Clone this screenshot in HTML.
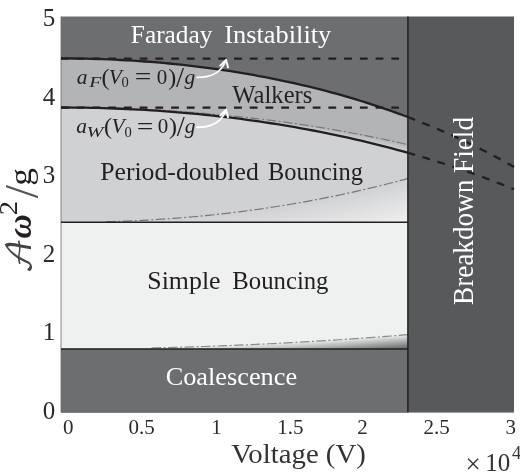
<!DOCTYPE html>
<html><head><meta charset="utf-8"><title>Phase diagram</title>
<style>html,body{margin:0;padding:0;background:#fff}svg{display:block}</style></head>
<body>
<svg width="520" height="472" viewBox="0 0 520 472">
<defs><clipPath id="cp"><rect x="61.00" y="16.50" width="346.90" height="395.70"/></clipPath></defs>
<rect width="520" height="472" fill="#fff"/>
<rect x="61.0" y="16.5" width="346.90" height="395.70" fill="#6d6e70"/>
<polygon fill="#b3b4b6" points="61.00,58.44 66.89,58.46 72.77,58.50 78.66,58.58 84.55,58.68 90.43,58.82 96.32,58.98 102.21,59.17 108.09,59.40 113.98,59.65 119.86,59.94 125.75,60.25 131.64,60.60 137.52,60.97 143.41,61.38 149.30,61.82 155.18,62.28 161.07,62.79 166.96,63.32 172.84,63.88 178.73,64.48 184.62,65.11 190.50,65.77 196.39,66.47 202.27,67.19 208.16,67.96 214.05,68.75 219.93,69.58 225.82,70.45 231.71,71.35 237.59,72.29 243.48,73.26 249.37,74.27 255.25,75.31 261.14,76.40 267.03,77.52 272.91,78.68 278.80,79.87 284.68,81.11 290.57,82.39 296.46,83.71 302.34,85.06 308.23,86.46 314.12,87.91 320.00,89.39 325.89,90.92 331.78,92.49 337.66,94.11 343.55,95.77 349.44,97.48 355.32,99.23 361.21,101.03 367.09,102.88 372.98,104.78 378.87,106.73 384.75,108.73 390.64,110.78 396.53,112.88 402.41,115.03 408.30,117.23 407.90,412.2 61.0,412.2"/>
<polygon fill="#b5b6b8" points="61.00,107.51 66.89,107.52 72.77,107.55 78.66,107.60 84.55,107.67 90.43,107.76 96.32,107.86 102.21,107.99 108.09,108.14 113.98,108.31 119.86,108.49 125.75,108.70 131.64,108.93 137.52,109.18 143.41,109.44 149.30,109.73 155.18,110.04 161.07,110.37 166.96,110.72 172.84,111.09 178.73,111.48 184.62,111.89 190.50,112.32 196.39,112.77 202.27,113.25 208.16,113.74 214.05,114.26 219.93,114.80 225.82,115.36 231.71,115.94 237.59,116.55 243.48,117.18 249.37,117.83 255.25,118.50 261.14,119.19 267.03,119.91 272.91,120.66 278.80,121.42 284.68,122.21 290.57,123.03 296.46,123.86 302.34,124.73 308.23,125.61 314.12,126.53 320.00,127.46 325.89,128.43 331.78,129.42 337.66,130.43 343.55,131.47 349.44,132.54 355.32,133.63 361.21,134.76 367.09,135.91 372.98,137.08 378.87,138.29 384.75,139.53 390.64,140.79 396.53,142.08 402.41,143.40 408.30,144.76 407.90,412.2 61.0,412.2"/>
<polygon fill="#b8b9bb" points="61.00,107.51 66.89,107.52 72.77,107.55 78.66,107.60 84.55,107.67 90.43,107.76 96.32,107.87 102.21,108.00 108.09,108.15 113.98,108.32 119.86,108.51 125.75,108.72 131.64,108.96 137.52,109.21 143.41,109.48 149.30,109.77 155.18,110.09 161.07,110.42 166.96,110.78 172.84,111.15 178.73,111.55 184.62,111.97 190.50,112.41 196.39,112.87 202.27,113.35 208.16,113.86 214.05,114.38 219.93,114.93 225.82,115.50 231.71,116.10 237.59,116.71 243.48,117.35 249.37,118.01 255.25,118.70 261.14,119.41 267.03,120.14 272.91,120.90 278.80,121.68 284.68,122.48 290.57,123.31 296.46,124.16 302.34,125.04 308.23,125.94 314.12,126.87 320.00,127.83 325.89,128.81 331.78,129.82 337.66,130.85 343.55,131.91 349.44,133.00 355.32,134.11 361.21,135.26 367.09,136.43 372.98,137.63 378.87,138.85 384.75,140.11 390.64,141.40 396.53,142.71 402.41,144.06 408.30,145.44 407.90,412.2 61.0,412.2"/>
<polygon fill="#babbbd" points="61.00,107.51 66.89,107.52 72.77,107.55 78.66,107.60 84.55,107.67 90.43,107.77 96.32,107.88 102.21,108.01 108.09,108.16 113.98,108.34 119.86,108.53 125.75,108.75 131.64,108.98 137.52,109.24 143.41,109.51 149.30,109.81 155.18,110.13 161.07,110.47 166.96,110.83 172.84,111.22 178.73,111.62 184.62,112.05 190.50,112.50 196.39,112.97 202.27,113.46 208.16,113.97 214.05,114.51 219.93,115.07 225.82,115.65 231.71,116.25 237.59,116.88 243.48,117.53 249.37,118.20 255.25,118.90 261.14,119.62 267.03,120.37 272.91,121.14 278.80,121.93 284.68,122.75 290.57,123.59 296.46,124.46 302.34,125.36 308.23,126.28 314.12,127.22 320.00,128.19 325.89,129.19 331.78,130.22 337.66,131.27 343.55,132.35 349.44,133.46 355.32,134.59 361.21,135.75 367.09,136.95 372.98,138.17 378.87,139.42 384.75,140.70 390.64,142.01 396.53,143.35 402.41,144.72 408.30,146.12 407.90,412.2 61.0,412.2"/>
<polygon fill="#bdbec0" points="61.00,107.51 66.89,107.52 72.77,107.55 78.66,107.60 84.55,107.68 90.43,107.77 96.32,107.88 102.21,108.02 108.09,108.17 113.98,108.35 119.86,108.55 125.75,108.77 131.64,109.01 137.52,109.27 143.41,109.55 149.30,109.85 155.18,110.18 161.07,110.52 166.96,110.89 172.84,111.28 178.73,111.69 184.62,112.13 190.50,112.58 196.39,113.06 202.27,113.56 208.16,114.09 214.05,114.63 219.93,115.20 225.82,115.79 231.71,116.41 237.59,117.04 243.48,117.71 249.37,118.39 255.25,119.10 261.14,119.84 267.03,120.59 272.91,121.38 278.80,122.19 284.68,123.02 290.57,123.88 296.46,124.76 302.34,125.67 308.23,126.61 314.12,127.57 320.00,128.56 325.89,129.57 331.78,130.62 337.66,131.69 343.55,132.79 349.44,133.91 355.32,135.07 361.21,136.25 367.09,137.47 372.98,138.71 378.87,139.98 384.75,141.28 390.64,142.62 396.53,143.98 402.41,145.37 408.30,146.80 407.90,412.2 61.0,412.2"/>
<polygon fill="#bfc0c2" points="61.00,107.51 66.89,107.52 72.77,107.55 78.66,107.61 84.55,107.68 90.43,107.77 96.32,107.89 102.21,108.03 108.09,108.19 113.98,108.37 119.86,108.57 125.75,108.79 131.64,109.03 137.52,109.30 143.41,109.59 149.30,109.89 155.18,110.22 161.07,110.58 166.96,110.95 172.84,111.35 178.73,111.77 184.62,112.21 190.50,112.67 196.39,113.16 202.27,113.67 208.16,114.20 214.05,114.75 219.93,115.33 225.82,115.94 231.71,116.56 237.59,117.21 243.48,117.88 249.37,118.58 255.25,119.30 261.14,120.05 267.03,120.82 272.91,121.62 278.80,122.44 284.68,123.29 290.57,124.16 296.46,125.06 302.34,125.99 308.23,126.94 314.12,127.92 320.00,128.92 325.89,129.96 331.78,131.02 337.66,132.11 343.55,133.22 349.44,134.37 355.32,135.55 361.21,136.75 367.09,137.98 372.98,139.25 378.87,140.54 384.75,141.87 390.64,143.22 396.53,144.61 402.41,146.03 408.30,147.48 407.90,412.2 61.0,412.2"/>
<polygon fill="#c2c2c4" points="61.00,107.51 66.89,107.52 72.77,107.55 78.66,107.61 84.55,107.68 90.43,107.78 96.32,107.90 102.21,108.04 108.09,108.20 113.98,108.38 119.86,108.58 125.75,108.81 131.64,109.06 137.52,109.33 143.41,109.62 149.30,109.93 155.18,110.27 161.07,110.63 166.96,111.01 172.84,111.41 178.73,111.84 184.62,112.29 190.50,112.76 196.39,113.25 202.27,113.77 208.16,114.31 214.05,114.88 219.93,115.47 225.82,116.08 231.71,116.71 237.59,117.38 243.48,118.06 249.37,118.77 255.25,119.50 261.14,120.26 267.03,121.05 272.91,121.86 278.80,122.69 284.68,123.56 290.57,124.44 296.46,125.36 302.34,126.30 308.23,127.27 314.12,128.26 320.00,129.29 325.89,130.34 331.78,131.42 337.66,132.53 343.55,133.66 349.44,134.83 355.32,136.02 361.21,137.25 367.09,138.50 372.98,139.79 378.87,141.11 384.75,142.45 390.64,143.83 396.53,145.24 402.41,146.69 408.30,148.16 407.90,412.2 61.0,412.2"/>
<polygon fill="#c4c5c7" points="61.00,107.51 66.89,107.52 72.77,107.55 78.66,107.61 84.55,107.69 90.43,107.78 96.32,107.90 102.21,108.05 108.09,108.21 113.98,108.39 119.86,108.60 125.75,108.83 131.64,109.08 137.52,109.36 143.41,109.66 149.30,109.98 155.18,110.32 161.07,110.68 166.96,111.07 172.84,111.48 178.73,111.91 184.62,112.37 190.50,112.85 196.39,113.35 202.27,113.88 208.16,114.43 214.05,115.00 219.93,115.60 225.82,116.22 231.71,116.87 237.59,117.54 243.48,118.24 249.37,118.96 255.25,119.71 261.14,120.48 267.03,121.28 272.91,122.10 278.80,122.95 284.68,123.83 290.57,124.73 296.46,125.66 302.34,126.62 308.23,127.60 314.12,128.61 320.00,129.65 325.89,130.72 331.78,131.82 337.66,132.95 343.55,134.10 349.44,135.29 355.32,136.50 361.21,137.75 367.09,139.02 372.98,140.33 378.87,141.67 384.75,143.04 390.64,144.44 396.53,145.88 402.41,147.34 408.30,148.84 407.90,412.2 61.0,412.2"/>
<polygon fill="#c6c7c9" points="61.00,107.51 66.89,107.52 72.77,107.56 78.66,107.61 84.55,107.69 90.43,107.79 96.32,107.91 102.21,108.05 108.09,108.22 113.98,108.41 119.86,108.62 125.75,108.85 131.64,109.11 137.52,109.39 143.41,109.69 149.30,110.02 155.18,110.36 161.07,110.73 166.96,111.13 172.84,111.54 178.73,111.98 184.62,112.45 190.50,112.94 196.39,113.45 202.27,113.98 208.16,114.54 214.05,115.13 219.93,115.73 225.82,116.37 231.71,117.02 237.59,117.71 243.48,118.41 249.37,119.15 255.25,119.91 261.14,120.69 267.03,121.50 272.91,122.34 278.80,123.20 284.68,124.09 290.57,125.01 296.46,125.96 302.34,126.93 308.23,127.93 314.12,128.96 320.00,130.02 325.89,131.10 331.78,132.22 337.66,133.37 343.55,134.54 349.44,135.74 355.32,136.98 361.21,138.25 367.09,139.54 372.98,140.87 378.87,142.23 384.75,143.62 390.64,145.05 396.53,146.51 402.41,148.00 408.30,149.53 407.90,412.2 61.0,412.2"/>
<polygon fill="#c9cacc" points="61.00,107.51 66.89,107.52 72.77,107.56 78.66,107.61 84.55,107.69 90.43,107.79 96.32,107.92 102.21,108.06 108.09,108.23 113.98,108.42 119.86,108.64 125.75,108.88 131.64,109.14 137.52,109.42 143.41,109.73 149.30,110.06 155.18,110.41 161.07,110.79 166.96,111.19 172.84,111.61 178.73,112.06 184.62,112.53 190.50,113.02 196.39,113.54 202.27,114.09 208.16,114.66 214.05,115.25 219.93,115.87 225.82,116.51 231.71,117.18 237.59,117.87 243.48,118.59 249.37,119.34 255.25,120.11 261.14,120.90 267.03,121.73 272.91,122.58 278.80,123.46 284.68,124.36 290.57,125.30 296.46,126.26 302.34,127.25 308.23,128.26 314.12,129.31 320.00,130.38 325.89,131.49 331.78,132.62 337.66,133.78 343.55,134.98 349.44,136.20 355.32,137.46 361.21,138.74 367.09,140.06 372.98,141.41 378.87,142.80 384.75,144.21 390.64,145.66 396.53,147.14 402.41,148.66 408.30,150.21 407.90,412.2 61.0,412.2"/>
<polygon fill="#cbccce" points="61.00,107.51 66.89,107.52 72.77,107.56 78.66,107.61 84.55,107.69 90.43,107.80 96.32,107.92 102.21,108.07 108.09,108.24 113.98,108.44 119.86,108.66 125.75,108.90 131.64,109.16 137.52,109.45 143.41,109.76 149.30,110.10 155.18,110.46 161.07,110.84 166.96,111.24 172.84,111.68 178.73,112.13 184.62,112.61 190.50,113.11 196.39,113.64 202.27,114.19 208.16,114.77 214.05,115.37 219.93,116.00 225.82,116.65 231.71,117.33 237.59,118.04 243.48,118.77 249.37,119.52 255.25,120.31 261.14,121.12 267.03,121.96 272.91,122.82 278.80,123.71 284.68,124.63 290.57,125.58 296.46,126.56 302.34,127.56 308.23,128.59 314.12,129.66 320.00,130.75 325.89,131.87 331.78,133.02 337.66,134.20 343.55,135.42 349.44,136.66 355.32,137.94 361.21,139.24 367.09,140.58 372.98,141.95 378.87,143.36 384.75,144.80 390.64,146.27 396.53,147.77 402.41,149.31 408.30,150.89 407.90,412.2 61.0,412.2"/>
<polygon fill="#cecfd1" points="61.00,107.51 66.89,107.52 72.77,107.56 78.66,107.62 84.55,107.70 90.43,107.80 96.32,107.93 102.21,108.08 108.09,108.26 113.98,108.45 119.86,108.67 125.75,108.92 131.64,109.19 137.52,109.48 143.41,109.80 149.30,110.14 155.18,110.50 161.07,110.89 166.96,111.30 172.84,111.74 178.73,112.20 184.62,112.69 190.50,113.20 196.39,113.74 202.27,114.30 208.16,114.88 214.05,115.50 219.93,116.13 225.82,116.80 231.71,117.49 237.59,118.20 243.48,118.94 249.37,119.71 255.25,120.51 261.14,121.33 267.03,122.18 272.91,123.06 278.80,123.97 284.68,124.90 290.57,125.86 296.46,126.85 302.34,127.88 308.23,128.92 314.12,130.00 320.00,131.11 325.89,132.25 331.78,133.42 337.66,134.62 343.55,135.85 349.44,137.12 355.32,138.41 361.21,139.74 367.09,141.10 372.98,142.49 378.87,143.92 384.75,145.38 390.64,146.88 396.53,148.41 402.41,149.97 408.30,151.57 407.90,412.2 61.0,412.2"/>
<polygon fill="#d0d1d3" points="61.00,107.51 66.89,107.52 72.77,107.56 78.66,107.62 84.55,107.70 90.43,107.81 96.32,107.94 102.21,108.09 108.09,108.27 113.98,108.47 119.86,108.69 125.75,108.94 131.64,109.21 137.52,109.51 143.41,109.83 149.30,110.18 155.18,110.55 161.07,110.94 166.96,111.36 172.84,111.81 178.73,112.27 184.62,112.77 190.50,113.29 196.39,113.83 202.27,114.40 208.16,115.00 214.05,115.62 219.93,116.27 225.82,116.94 231.71,117.64 237.59,118.37 243.48,119.12 249.37,119.90 255.25,120.71 261.14,121.55 267.03,122.41 272.91,123.30 278.80,124.22 284.68,125.17 290.57,126.15 296.46,127.15 302.34,128.19 308.23,129.26 314.12,130.35 320.00,131.48 325.89,132.63 331.78,133.82 337.66,135.04 343.55,136.29 349.44,137.58 355.32,138.89 361.21,140.24 367.09,141.62 372.98,143.04 378.87,144.48 384.75,145.97 390.64,147.49 396.53,149.04 402.41,150.63 408.30,152.25 407.90,412.2 61.0,412.2"/>
<polygon fill="#d0d1d3" points="61.00,107.51 66.89,107.52 72.77,107.56 78.66,107.62 84.55,107.70 90.43,107.81 96.32,107.94 102.21,108.10 108.09,108.28 113.98,108.48 119.86,108.71 125.75,108.96 131.64,109.24 137.52,109.54 143.41,109.87 149.30,110.22 155.18,110.59 161.07,111.00 166.96,111.42 172.84,111.87 178.73,112.35 184.62,112.85 190.50,113.38 196.39,113.93 202.27,114.51 208.16,115.11 214.05,115.74 219.93,116.40 225.82,117.08 231.71,117.79 237.59,118.53 243.48,119.30 249.37,120.09 255.25,120.91 261.14,121.76 267.03,122.64 272.91,123.54 278.80,124.48 284.68,125.44 290.57,126.43 296.46,127.45 302.34,128.50 308.23,129.59 314.12,130.70 320.00,131.84 325.89,133.02 331.78,134.22 337.66,135.46 343.55,136.73 349.44,138.03 355.32,139.37 361.21,140.74 367.09,142.14 372.98,143.58 378.87,145.05 384.75,146.55 390.64,148.09 396.53,149.67 402.41,151.28 408.30,152.93 407.90,412.2 61.0,412.2"/>
<g clip-path="url(#cp)">
<polygon fill="#d1d2d4" points="61.00,222.26 66.89,222.26 72.77,222.23 78.66,222.19 84.55,222.13 90.43,222.05 96.32,221.94 102.21,221.82 108.09,221.67 113.98,221.49 119.86,221.30 125.75,221.08 131.64,220.84 137.52,220.57 143.41,220.27 149.30,219.96 155.18,219.61 161.07,219.24 166.96,218.85 172.84,218.43 178.73,217.98 184.62,217.51 190.50,217.01 196.39,216.48 202.27,215.92 208.16,215.34 214.05,214.73 219.93,214.10 225.82,213.43 231.71,212.74 237.59,212.02 243.48,211.27 249.37,210.50 255.25,209.69 261.14,208.86 267.03,208.00 272.91,207.11 278.80,206.19 284.68,205.24 290.57,204.26 296.46,203.25 302.34,202.22 308.23,201.15 314.12,200.05 320.00,198.93 325.89,197.77 331.78,196.59 337.66,195.37 343.55,194.13 349.44,192.85 355.32,191.55 361.21,190.21 367.09,188.84 372.98,187.45 378.87,186.02 384.75,184.56 390.64,183.07 396.53,181.55 402.41,180.00 408.30,178.42 407.90,412.2 61.0,412.2"/>
<polygon fill="#d2d3d5" points="61.00,223.80 66.89,223.79 72.77,223.77 78.66,223.72 84.55,223.66 90.43,223.58 96.32,223.48 102.21,223.35 108.09,223.20 113.98,223.03 119.86,222.83 125.75,222.61 131.64,222.37 137.52,222.10 143.41,221.81 149.30,221.49 155.18,221.15 161.07,220.78 166.96,220.38 172.84,219.96 178.73,219.51 184.62,219.04 190.50,218.54 196.39,218.01 202.27,217.46 208.16,216.88 214.05,216.27 219.93,215.63 225.82,214.97 231.71,214.27 237.59,213.55 243.48,212.81 249.37,212.03 255.25,211.23 261.14,210.39 267.03,209.53 272.91,208.64 278.80,207.72 284.68,206.77 290.57,205.79 296.46,204.79 302.34,203.75 308.23,202.68 314.12,201.59 320.00,200.46 325.89,199.31 331.78,198.12 337.66,196.91 343.55,195.66 349.44,194.39 355.32,193.08 361.21,191.74 367.09,190.38 372.98,188.98 378.87,187.55 384.75,186.09 390.64,184.60 396.53,183.08 402.41,181.53 408.30,179.95 407.90,412.2 61.0,412.2"/>
<polygon fill="#d3d4d6" points="61.00,225.33 66.89,225.32 72.77,225.30 78.66,225.26 84.55,225.20 90.43,225.11 96.32,225.01 102.21,224.88 108.09,224.73 113.98,224.56 119.86,224.37 125.75,224.15 131.64,223.90 137.52,223.63 143.41,223.34 149.30,223.02 155.18,222.68 161.07,222.31 166.96,221.92 172.84,221.49 178.73,221.05 184.62,220.57 190.50,220.07 196.39,219.55 202.27,218.99 208.16,218.41 214.05,217.80 219.93,217.16 225.82,216.50 231.71,215.81 237.59,215.09 243.48,214.34 249.37,213.56 255.25,212.76 261.14,211.93 267.03,211.06 272.91,210.17 278.80,209.25 284.68,208.30 290.57,207.33 296.46,206.32 302.34,205.28 308.23,204.22 314.12,203.12 320.00,201.99 325.89,200.84 331.78,199.65 337.66,198.44 343.55,197.19 349.44,195.92 355.32,194.61 361.21,193.28 367.09,191.91 372.98,190.51 378.87,189.09 384.75,187.63 390.64,186.14 396.53,184.62 402.41,183.07 408.30,181.48 407.90,412.2 61.0,412.2"/>
<polygon fill="#d4d5d7" points="61.00,226.86 66.89,226.86 72.77,226.83 78.66,226.79 84.55,226.73 90.43,226.65 96.32,226.54 102.21,226.42 108.09,226.27 113.98,226.09 119.86,225.90 125.75,225.68 131.64,225.44 137.52,225.17 143.41,224.87 149.30,224.56 155.18,224.21 161.07,223.84 166.96,223.45 172.84,223.03 178.73,222.58 184.62,222.11 190.50,221.61 196.39,221.08 202.27,220.52 208.16,219.94 214.05,219.33 219.93,218.70 225.82,218.03 231.71,217.34 237.59,216.62 243.48,215.87 249.37,215.10 255.25,214.29 261.14,213.46 267.03,212.60 272.91,211.71 278.80,210.79 284.68,209.84 290.57,208.86 296.46,207.85 302.34,206.82 308.23,205.75 314.12,204.65 320.00,203.53 325.89,202.37 331.78,201.19 337.66,199.97 343.55,198.73 349.44,197.45 355.32,196.15 361.21,194.81 367.09,193.44 372.98,192.05 378.87,190.62 384.75,189.16 390.64,187.67 396.53,186.15 402.41,184.60 408.30,183.02 407.90,412.2 61.0,412.2"/>
<polygon fill="#d6d6d8" points="61.00,228.40 66.89,228.39 72.77,228.37 78.66,228.32 84.55,228.26 90.43,228.18 96.32,228.08 102.21,227.95 108.09,227.80 113.98,227.63 119.86,227.43 125.75,227.21 131.64,226.97 137.52,226.70 143.41,226.41 149.30,226.09 155.18,225.75 161.07,225.38 166.96,224.98 172.84,224.56 178.73,224.11 184.62,223.64 190.50,223.14 196.39,222.61 202.27,222.06 208.16,221.48 214.05,220.87 219.93,220.23 225.82,219.57 231.71,218.87 237.59,218.15 243.48,217.41 249.37,216.63 255.25,215.83 261.14,214.99 267.03,214.13 272.91,213.24 278.80,212.32 284.68,211.37 290.57,210.39 296.46,209.39 302.34,208.35 308.23,207.28 314.12,206.19 320.00,205.06 325.89,203.91 331.78,202.72 337.66,201.51 343.55,200.26 349.44,198.99 355.32,197.68 361.21,196.34 367.09,194.98 372.98,193.58 378.87,192.15 384.75,190.69 390.64,189.20 396.53,187.68 402.41,186.13 408.30,184.55 407.90,412.2 61.0,412.2"/>
<polygon fill="#d7d7d9" points="61.00,229.93 66.89,229.92 72.77,229.90 78.66,229.86 84.55,229.80 90.43,229.71 96.32,229.61 102.21,229.48 108.09,229.33 113.98,229.16 119.86,228.97 125.75,228.75 131.64,228.50 137.52,228.23 143.41,227.94 149.30,227.62 155.18,227.28 161.07,226.91 166.96,226.52 172.84,226.09 178.73,225.65 184.62,225.17 190.50,224.67 196.39,224.15 202.27,223.59 208.16,223.01 214.05,222.40 219.93,221.76 225.82,221.10 231.71,220.41 237.59,219.69 243.48,218.94 249.37,218.16 255.25,217.36 261.14,216.53 267.03,215.66 272.91,214.77 278.80,213.85 284.68,212.90 290.57,211.93 296.46,210.92 302.34,209.88 308.23,208.82 314.12,207.72 320.00,206.59 325.89,205.44 331.78,204.25 337.66,203.04 343.55,201.79 349.44,200.52 355.32,199.21 361.21,197.88 367.09,196.51 372.98,195.11 378.87,193.69 384.75,192.23 390.64,190.74 396.53,189.22 402.41,187.67 408.30,186.08 407.90,412.2 61.0,412.2"/>
<polygon fill="#d8d8da" points="61.00,231.46 66.89,231.46 72.77,231.43 78.66,231.39 84.55,231.33 90.43,231.25 96.32,231.14 102.21,231.02 108.09,230.87 113.98,230.69 119.86,230.50 125.75,230.28 131.64,230.04 137.52,229.77 143.41,229.47 149.30,229.16 155.18,228.81 161.07,228.44 166.96,228.05 172.84,227.63 178.73,227.18 184.62,226.71 190.50,226.21 196.39,225.68 202.27,225.12 208.16,224.54 214.05,223.93 219.93,223.30 225.82,222.63 231.71,221.94 237.59,221.22 243.48,220.47 249.37,219.70 255.25,218.89 261.14,218.06 267.03,217.20 272.91,216.31 278.80,215.39 284.68,214.44 290.57,213.46 296.46,212.45 302.34,211.42 308.23,210.35 314.12,209.25 320.00,208.13 325.89,206.97 331.78,205.79 337.66,204.57 343.55,203.33 349.44,202.05 355.32,200.75 361.21,199.41 367.09,198.04 372.98,196.65 378.87,195.22 384.75,193.76 390.64,192.27 396.53,190.75 402.41,189.20 408.30,187.62 407.90,412.2 61.0,412.2"/>
<polygon fill="#d9dadb" points="61.00,233.00 66.89,232.99 72.77,232.97 78.66,232.92 84.55,232.86 90.43,232.78 96.32,232.68 102.21,232.55 108.09,232.40 113.98,232.23 119.86,232.03 125.75,231.81 131.64,231.57 137.52,231.30 143.41,231.01 149.30,230.69 155.18,230.35 161.07,229.98 166.96,229.58 172.84,229.16 178.73,228.71 184.62,228.24 190.50,227.74 196.39,227.21 202.27,226.66 208.16,226.08 214.05,225.47 219.93,224.83 225.82,224.17 231.71,223.47 237.59,222.75 243.48,222.01 249.37,221.23 255.25,220.43 261.14,219.59 267.03,218.73 272.91,217.84 278.80,216.92 284.68,215.97 290.57,214.99 296.46,213.99 302.34,212.95 308.23,211.88 314.12,210.79 320.00,209.66 325.89,208.51 331.78,207.32 337.66,206.11 343.55,204.86 349.44,203.59 355.32,202.28 361.21,200.94 367.09,199.58 372.98,198.18 378.87,196.75 384.75,195.29 390.64,193.80 396.53,192.28 402.41,190.73 408.30,189.15 407.90,412.2 61.0,412.2"/>
<polygon fill="#dadbdc" points="61.00,234.53 66.89,234.52 72.77,234.50 78.66,234.46 84.55,234.40 90.43,234.31 96.32,234.21 102.21,234.08 108.09,233.93 113.98,233.76 119.86,233.57 125.75,233.35 131.64,233.10 137.52,232.83 143.41,232.54 149.30,232.22 155.18,231.88 161.07,231.51 166.96,231.12 172.84,230.69 178.73,230.25 184.62,229.77 190.50,229.27 196.39,228.75 202.27,228.19 208.16,227.61 214.05,227.00 219.93,226.36 225.82,225.70 231.71,225.01 237.59,224.29 243.48,223.54 249.37,222.76 255.25,221.96 261.14,221.13 267.03,220.26 272.91,219.37 278.80,218.45 284.68,217.50 290.57,216.53 296.46,215.52 302.34,214.48 308.23,213.42 314.12,212.32 320.00,211.19 325.89,210.04 331.78,208.85 337.66,207.64 343.55,206.39 349.44,205.12 355.32,203.81 361.21,202.48 367.09,201.11 372.98,199.71 378.87,198.29 384.75,196.83 390.64,195.34 396.53,193.82 402.41,192.27 408.30,190.68 407.90,412.2 61.0,412.2"/>
<polygon fill="#dbdcdd" points="61.00,236.06 66.89,236.06 72.77,236.03 78.66,235.99 84.55,235.93 90.43,235.85 96.32,235.74 102.21,235.62 108.09,235.47 113.98,235.29 119.86,235.10 125.75,234.88 131.64,234.64 137.52,234.37 143.41,234.07 149.30,233.76 155.18,233.41 161.07,233.04 166.96,232.65 172.84,232.23 178.73,231.78 184.62,231.31 190.50,230.81 196.39,230.28 202.27,229.72 208.16,229.14 214.05,228.53 219.93,227.90 225.82,227.23 231.71,226.54 237.59,225.82 243.48,225.07 249.37,224.30 255.25,223.49 261.14,222.66 267.03,221.80 272.91,220.91 278.80,219.99 284.68,219.04 290.57,218.06 296.46,217.05 302.34,216.02 308.23,214.95 314.12,213.85 320.00,212.73 325.89,211.57 331.78,210.39 337.66,209.17 343.55,207.93 349.44,206.65 355.32,205.35 361.21,204.01 367.09,202.64 372.98,201.25 378.87,199.82 384.75,198.36 390.64,196.87 396.53,195.35 402.41,193.80 408.30,192.22 407.90,412.2 61.0,412.2"/>
<polygon fill="#dcddde" points="61.00,237.60 66.89,237.59 72.77,237.57 78.66,237.52 84.55,237.46 90.43,237.38 96.32,237.28 102.21,237.15 108.09,237.00 113.98,236.83 119.86,236.63 125.75,236.41 131.64,236.17 137.52,235.90 143.41,235.61 149.30,235.29 155.18,234.95 161.07,234.58 166.96,234.18 172.84,233.76 178.73,233.31 184.62,232.84 190.50,232.34 196.39,231.81 202.27,231.26 208.16,230.68 214.05,230.07 219.93,229.43 225.82,228.77 231.71,228.07 237.59,227.35 243.48,226.61 249.37,225.83 255.25,225.03 261.14,224.19 267.03,223.33 272.91,222.44 278.80,221.52 284.68,220.57 290.57,219.59 296.46,218.59 302.34,217.55 308.23,216.48 314.12,215.39 320.00,214.26 325.89,213.11 331.78,211.92 337.66,210.71 343.55,209.46 349.44,208.19 355.32,206.88 361.21,205.54 367.09,204.18 372.98,202.78 378.87,201.35 384.75,199.89 390.64,198.40 396.53,196.88 402.41,195.33 408.30,193.75 407.90,412.2 61.0,412.2"/>
<polygon fill="#dddedf" points="61.00,239.13 66.89,239.12 72.77,239.10 78.66,239.06 84.55,239.00 90.43,238.91 96.32,238.81 102.21,238.68 108.09,238.53 113.98,238.36 119.86,238.17 125.75,237.95 131.64,237.70 137.52,237.43 143.41,237.14 149.30,236.82 155.18,236.48 161.07,236.11 166.96,235.72 172.84,235.29 178.73,234.85 184.62,234.37 190.50,233.87 196.39,233.35 202.27,232.79 208.16,232.21 214.05,231.60 219.93,230.96 225.82,230.30 231.71,229.61 237.59,228.89 243.48,228.14 249.37,227.36 255.25,226.56 261.14,225.73 267.03,224.86 272.91,223.97 278.80,223.05 284.68,222.10 290.57,221.13 296.46,220.12 302.34,219.08 308.23,218.02 314.12,216.92 320.00,215.79 325.89,214.64 331.78,213.45 337.66,212.24 343.55,210.99 349.44,209.72 355.32,208.41 361.21,207.08 367.09,205.71 372.98,204.31 378.87,202.89 384.75,201.43 390.64,199.94 396.53,198.42 402.41,196.87 408.30,195.28 407.90,412.2 61.0,412.2"/>
<polygon fill="#dedfe0" points="61.00,240.66 66.89,240.66 72.77,240.63 78.66,240.59 84.55,240.53 90.43,240.45 96.32,240.34 102.21,240.22 108.09,240.07 113.98,239.89 119.86,239.70 125.75,239.48 131.64,239.24 137.52,238.97 143.41,238.67 149.30,238.36 155.18,238.01 161.07,237.64 166.96,237.25 172.84,236.83 178.73,236.38 184.62,235.91 190.50,235.41 196.39,234.88 202.27,234.32 208.16,233.74 214.05,233.13 219.93,232.50 225.82,231.83 231.71,231.14 237.59,230.42 243.48,229.67 249.37,228.90 255.25,228.09 261.14,227.26 267.03,226.40 272.91,225.51 278.80,224.59 284.68,223.64 290.57,222.66 296.46,221.65 302.34,220.62 308.23,219.55 314.12,218.45 320.00,217.33 325.89,216.17 331.78,214.99 337.66,213.77 343.55,212.53 349.44,211.25 355.32,209.95 361.21,208.61 367.09,207.24 372.98,205.85 378.87,204.42 384.75,202.96 390.64,201.47 396.53,199.95 402.41,198.40 408.30,196.82 407.90,412.2 61.0,412.2"/>
<polygon fill="#dfe0e1" points="61.00,242.20 66.89,242.19 72.77,242.17 78.66,242.12 84.55,242.06 90.43,241.98 96.32,241.88 102.21,241.75 108.09,241.60 113.98,241.43 119.86,241.23 125.75,241.01 131.64,240.77 137.52,240.50 143.41,240.21 149.30,239.89 155.18,239.55 161.07,239.18 166.96,238.78 172.84,238.36 178.73,237.91 184.62,237.44 190.50,236.94 196.39,236.41 202.27,235.86 208.16,235.28 214.05,234.67 219.93,234.03 225.82,233.37 231.71,232.67 237.59,231.95 243.48,231.21 249.37,230.43 255.25,229.63 261.14,228.79 267.03,227.93 272.91,227.04 278.80,226.12 284.68,225.17 290.57,224.19 296.46,223.19 302.34,222.15 308.23,221.08 314.12,219.99 320.00,218.86 325.89,217.71 331.78,216.52 337.66,215.31 343.55,214.06 349.44,212.79 355.32,211.48 361.21,210.14 367.09,208.78 372.98,207.38 378.87,205.95 384.75,204.49 390.64,203.00 396.53,201.48 402.41,199.93 408.30,198.35 407.90,412.2 61.0,412.2"/>
<polygon fill="#e0e1e2" points="61.00,243.73 66.89,243.72 72.77,243.70 78.66,243.66 84.55,243.60 90.43,243.51 96.32,243.41 102.21,243.28 108.09,243.13 113.98,242.96 119.86,242.77 125.75,242.55 131.64,242.30 137.52,242.03 143.41,241.74 149.30,241.42 155.18,241.08 161.07,240.71 166.96,240.32 172.84,239.89 178.73,239.45 184.62,238.97 190.50,238.47 196.39,237.95 202.27,237.39 208.16,236.81 214.05,236.20 219.93,235.56 225.82,234.90 231.71,234.21 237.59,233.49 243.48,232.74 249.37,231.96 255.25,231.16 261.14,230.33 267.03,229.46 272.91,228.57 278.80,227.65 284.68,226.70 290.57,225.73 296.46,224.72 302.34,223.68 308.23,222.62 314.12,221.52 320.00,220.39 325.89,219.24 331.78,218.05 337.66,216.84 343.55,215.59 349.44,214.32 355.32,213.01 361.21,211.68 367.09,210.31 372.98,208.91 378.87,207.49 384.75,206.03 390.64,204.54 396.53,203.02 402.41,201.47 408.30,199.88 407.90,412.2 61.0,412.2"/>
<polygon fill="#e2e2e3" points="61.00,245.26 66.89,245.26 72.77,245.23 78.66,245.19 84.55,245.13 90.43,245.05 96.32,244.94 102.21,244.82 108.09,244.67 113.98,244.49 119.86,244.30 125.75,244.08 131.64,243.84 137.52,243.57 143.41,243.27 149.30,242.96 155.18,242.61 161.07,242.24 166.96,241.85 172.84,241.43 178.73,240.98 184.62,240.51 190.50,240.01 196.39,239.48 202.27,238.92 208.16,238.34 214.05,237.73 219.93,237.10 225.82,236.43 231.71,235.74 237.59,235.02 243.48,234.27 249.37,233.50 255.25,232.69 261.14,231.86 267.03,231.00 272.91,230.11 278.80,229.19 284.68,228.24 290.57,227.26 296.46,226.25 302.34,225.22 308.23,224.15 314.12,223.05 320.00,221.93 325.89,220.77 331.78,219.59 337.66,218.37 343.55,217.13 349.44,215.85 355.32,214.55 361.21,213.21 367.09,211.84 372.98,210.45 378.87,209.02 384.75,207.56 390.64,206.07 396.53,204.55 402.41,203.00 408.30,201.42 407.90,412.2 61.0,412.2"/>
<polygon fill="#e3e3e4" points="61.00,246.80 66.89,246.79 72.77,246.77 78.66,246.72 84.55,246.66 90.43,246.58 96.32,246.48 102.21,246.35 108.09,246.20 113.98,246.03 119.86,245.83 125.75,245.61 131.64,245.37 137.52,245.10 143.41,244.81 149.30,244.49 155.18,244.15 161.07,243.78 166.96,243.38 172.84,242.96 178.73,242.51 184.62,242.04 190.50,241.54 196.39,241.01 202.27,240.46 208.16,239.88 214.05,239.27 219.93,238.63 225.82,237.97 231.71,237.27 237.59,236.55 243.48,235.81 249.37,235.03 255.25,234.23 261.14,233.39 267.03,232.53 272.91,231.64 278.80,230.72 284.68,229.77 290.57,228.79 296.46,227.79 302.34,226.75 308.23,225.68 314.12,224.59 320.00,223.46 325.89,222.31 331.78,221.12 337.66,219.91 343.55,218.66 349.44,217.39 355.32,216.08 361.21,214.74 367.09,213.38 372.98,211.98 378.87,210.55 384.75,209.09 390.64,207.60 396.53,206.08 402.41,204.53 408.30,202.95 407.90,412.2 61.0,412.2"/>
<polygon fill="#e4e4e5" points="61.00,248.33 66.89,248.32 72.77,248.30 78.66,248.26 84.55,248.20 90.43,248.11 96.32,248.01 102.21,247.88 108.09,247.73 113.98,247.56 119.86,247.37 125.75,247.15 131.64,246.90 137.52,246.63 143.41,246.34 149.30,246.02 155.18,245.68 161.07,245.31 166.96,244.92 172.84,244.49 178.73,244.05 184.62,243.57 190.50,243.07 196.39,242.55 202.27,241.99 208.16,241.41 214.05,240.80 219.93,240.16 225.82,239.50 231.71,238.81 237.59,238.09 243.48,237.34 249.37,236.56 255.25,235.76 261.14,234.93 267.03,234.06 272.91,233.17 278.80,232.25 284.68,231.30 290.57,230.33 296.46,229.32 302.34,228.28 308.23,227.22 314.12,226.12 320.00,224.99 325.89,223.84 331.78,222.65 337.66,221.44 343.55,220.19 349.44,218.92 355.32,217.61 361.21,216.28 367.09,214.91 372.98,213.51 378.87,212.09 384.75,210.63 390.64,209.14 396.53,207.62 402.41,206.07 408.30,204.48 407.90,412.2 61.0,412.2"/>
<polygon fill="#e5e5e6" points="61.00,249.86 66.89,249.86 72.77,249.83 78.66,249.79 84.55,249.73 90.43,249.65 96.32,249.54 102.21,249.42 108.09,249.27 113.98,249.09 119.86,248.90 125.75,248.68 131.64,248.44 137.52,248.17 143.41,247.87 149.30,247.56 155.18,247.21 161.07,246.84 166.96,246.45 172.84,246.03 178.73,245.58 184.62,245.11 190.50,244.61 196.39,244.08 202.27,243.52 208.16,242.94 214.05,242.33 219.93,241.70 225.82,241.03 231.71,240.34 237.59,239.62 243.48,238.87 249.37,238.10 255.25,237.29 261.14,236.46 267.03,235.60 272.91,234.71 278.80,233.79 284.68,232.84 290.57,231.86 296.46,230.85 302.34,229.82 308.23,228.75 314.12,227.65 320.00,226.53 325.89,225.37 331.78,224.19 337.66,222.97 343.55,221.73 349.44,220.45 355.32,219.15 361.21,217.81 367.09,216.44 372.98,215.05 378.87,213.62 384.75,212.16 390.64,210.67 396.53,209.15 402.41,207.60 408.30,206.02 407.90,412.2 61.0,412.2"/>
<polygon fill="#e6e6e7" points="61.00,251.40 66.89,251.39 72.77,251.37 78.66,251.32 84.55,251.26 90.43,251.18 96.32,251.08 102.21,250.95 108.09,250.80 113.98,250.63 119.86,250.43 125.75,250.21 131.64,249.97 137.52,249.70 143.41,249.41 149.30,249.09 155.18,248.75 161.07,248.38 166.96,247.98 172.84,247.56 178.73,247.11 184.62,246.64 190.50,246.14 196.39,245.61 202.27,245.06 208.16,244.48 214.05,243.87 219.93,243.23 225.82,242.57 231.71,241.87 237.59,241.15 243.48,240.41 249.37,239.63 255.25,238.83 261.14,237.99 267.03,237.13 272.91,236.24 278.80,235.32 284.68,234.37 290.57,233.39 296.46,232.39 302.34,231.35 308.23,230.28 314.12,229.19 320.00,228.06 325.89,226.91 331.78,225.72 337.66,224.51 343.55,223.26 349.44,221.99 355.32,220.68 361.21,219.34 367.09,217.98 372.98,216.58 378.87,215.15 384.75,213.69 390.64,212.20 396.53,210.68 402.41,209.13 408.30,207.55 407.90,412.2 61.0,412.2"/>
<polygon fill="#e7e7e8" points="61.00,252.93 66.89,252.92 72.77,252.90 78.66,252.86 84.55,252.80 90.43,252.71 96.32,252.61 102.21,252.48 108.09,252.33 113.98,252.16 119.86,251.97 125.75,251.75 131.64,251.50 137.52,251.23 143.41,250.94 149.30,250.62 155.18,250.28 161.07,249.91 166.96,249.52 172.84,249.09 178.73,248.65 184.62,248.17 190.50,247.67 196.39,247.15 202.27,246.59 208.16,246.01 214.05,245.40 219.93,244.76 225.82,244.10 231.71,243.41 237.59,242.69 243.48,241.94 249.37,241.16 255.25,240.36 261.14,239.53 267.03,238.66 272.91,237.77 278.80,236.85 284.68,235.90 290.57,234.93 296.46,233.92 302.34,232.88 308.23,231.82 314.12,230.72 320.00,229.59 325.89,228.44 331.78,227.25 337.66,226.04 343.55,224.79 349.44,223.52 355.32,222.21 361.21,220.88 367.09,219.51 372.98,218.11 378.87,216.69 384.75,215.23 390.64,213.74 396.53,212.22 402.41,210.67 408.30,209.08 407.90,412.2 61.0,412.2"/>
<polygon fill="#e8e8e9" points="61.00,254.46 66.89,254.46 72.77,254.43 78.66,254.39 84.55,254.33 90.43,254.25 96.32,254.14 102.21,254.02 108.09,253.87 113.98,253.69 119.86,253.50 125.75,253.28 131.64,253.04 137.52,252.77 143.41,252.47 149.30,252.16 155.18,251.81 161.07,251.44 166.96,251.05 172.84,250.63 178.73,250.18 184.62,249.71 190.50,249.21 196.39,248.68 202.27,248.12 208.16,247.54 214.05,246.93 219.93,246.30 225.82,245.63 231.71,244.94 237.59,244.22 243.48,243.47 249.37,242.70 255.25,241.89 261.14,241.06 267.03,240.20 272.91,239.31 278.80,238.39 284.68,237.44 290.57,236.46 296.46,235.45 302.34,234.42 308.23,233.35 314.12,232.25 320.00,231.13 325.89,229.97 331.78,228.79 337.66,227.57 343.55,226.33 349.44,225.05 355.32,223.75 361.21,222.41 367.09,221.04 372.98,219.65 378.87,218.22 384.75,216.76 390.64,215.27 396.53,213.75 402.41,212.20 408.30,210.62 407.90,412.2 61.0,412.2"/>
<polygon fill="#e9eaea" points="61.00,256.00 66.89,255.99 72.77,255.97 78.66,255.92 84.55,255.86 90.43,255.78 96.32,255.68 102.21,255.55 108.09,255.40 113.98,255.23 119.86,255.03 125.75,254.81 131.64,254.57 137.52,254.30 143.41,254.01 149.30,253.69 155.18,253.35 161.07,252.98 166.96,252.58 172.84,252.16 178.73,251.71 184.62,251.24 190.50,250.74 196.39,250.21 202.27,249.66 208.16,249.08 214.05,248.47 219.93,247.83 225.82,247.17 231.71,246.47 237.59,245.75 243.48,245.01 249.37,244.23 255.25,243.43 261.14,242.59 267.03,241.73 272.91,240.84 278.80,239.92 284.68,238.97 290.57,237.99 296.46,236.99 302.34,235.95 308.23,234.88 314.12,233.79 320.00,232.66 325.89,231.51 331.78,230.32 337.66,229.11 343.55,227.86 349.44,226.59 355.32,225.28 361.21,223.94 367.09,222.58 372.98,221.18 378.87,219.75 384.75,218.29 390.64,216.80 396.53,215.28 402.41,213.73 408.30,212.15 407.90,412.2 61.0,412.2"/>
<polygon fill="#eaebeb" points="61.00,257.53 66.89,257.52 72.77,257.50 78.66,257.46 84.55,257.40 90.43,257.31 96.32,257.21 102.21,257.08 108.09,256.93 113.98,256.76 119.86,256.57 125.75,256.35 131.64,256.10 137.52,255.83 143.41,255.54 149.30,255.22 155.18,254.88 161.07,254.51 166.96,254.12 172.84,253.69 178.73,253.25 184.62,252.77 190.50,252.27 196.39,251.75 202.27,251.19 208.16,250.61 214.05,250.00 219.93,249.36 225.82,248.70 231.71,248.01 237.59,247.29 243.48,246.54 249.37,245.76 255.25,244.96 261.14,244.13 267.03,243.26 272.91,242.37 278.80,241.45 284.68,240.50 290.57,239.53 296.46,238.52 302.34,237.48 308.23,236.42 314.12,235.32 320.00,234.19 325.89,233.04 331.78,231.85 337.66,230.64 343.55,229.39 349.44,228.12 355.32,226.81 361.21,225.48 367.09,224.11 372.98,222.71 378.87,221.29 384.75,219.83 390.64,218.34 396.53,216.82 402.41,215.27 408.30,213.68 407.90,412.2 61.0,412.2"/>
<polygon fill="#ececec" points="61.00,259.06 66.89,259.06 72.77,259.03 78.66,258.99 84.55,258.93 90.43,258.85 96.32,258.74 102.21,258.62 108.09,258.47 113.98,258.29 119.86,258.10 125.75,257.88 131.64,257.64 137.52,257.37 143.41,257.07 149.30,256.76 155.18,256.41 161.07,256.04 166.96,255.65 172.84,255.23 178.73,254.78 184.62,254.31 190.50,253.81 196.39,253.28 202.27,252.72 208.16,252.14 214.05,251.53 219.93,250.90 225.82,250.23 231.71,249.54 237.59,248.82 243.48,248.07 249.37,247.30 255.25,246.49 261.14,245.66 267.03,244.80 272.91,243.91 278.80,242.99 284.68,242.04 290.57,241.06 296.46,240.05 302.34,239.02 308.23,237.95 314.12,236.85 320.00,235.73 325.89,234.57 331.78,233.39 337.66,232.17 343.55,230.93 349.44,229.65 355.32,228.35 361.21,227.01 367.09,225.64 372.98,224.25 378.87,222.82 384.75,221.36 390.64,219.87 396.53,218.35 402.41,216.80 408.30,215.22 407.90,412.2 61.0,412.2"/>
<polygon fill="#ededed" points="61.00,260.60 66.89,260.59 72.77,260.57 78.66,260.52 84.55,260.46 90.43,260.38 96.32,260.28 102.21,260.15 108.09,260.00 113.98,259.83 119.86,259.63 125.75,259.41 131.64,259.17 137.52,258.90 143.41,258.61 149.30,258.29 155.18,257.95 161.07,257.58 166.96,257.18 172.84,256.76 178.73,256.31 184.62,255.84 190.50,255.34 196.39,254.81 202.27,254.26 208.16,253.68 214.05,253.07 219.93,252.43 225.82,251.77 231.71,251.07 237.59,250.35 243.48,249.61 249.37,248.83 255.25,248.03 261.14,247.19 267.03,246.33 272.91,245.44 278.80,244.52 284.68,243.57 290.57,242.59 296.46,241.59 302.34,240.55 308.23,239.48 314.12,238.39 320.00,237.26 325.89,236.11 331.78,234.92 337.66,233.71 343.55,232.46 349.44,231.19 355.32,229.88 361.21,228.54 367.09,227.18 372.98,225.78 378.87,224.35 384.75,222.89 390.64,221.40 396.53,219.88 402.41,218.33 408.30,216.75 407.90,412.2 61.0,412.2"/>
<polygon fill="#eeeeee" points="61.00,262.13 66.89,262.12 72.77,262.10 78.66,262.06 84.55,262.00 90.43,261.91 96.32,261.81 102.21,261.68 108.09,261.53 113.98,261.36 119.86,261.17 125.75,260.95 131.64,260.70 137.52,260.43 143.41,260.14 149.30,259.82 155.18,259.48 161.07,259.11 166.96,258.72 172.84,258.29 178.73,257.85 184.62,257.37 190.50,256.87 196.39,256.35 202.27,255.79 208.16,255.21 214.05,254.60 219.93,253.96 225.82,253.30 231.71,252.61 237.59,251.89 243.48,251.14 249.37,250.36 255.25,249.56 261.14,248.73 267.03,247.86 272.91,246.97 278.80,246.05 284.68,245.10 290.57,244.13 296.46,243.12 302.34,242.08 308.23,241.02 314.12,239.92 320.00,238.79 325.89,237.64 331.78,236.45 337.66,235.24 343.55,233.99 349.44,232.72 355.32,231.41 361.21,230.08 367.09,228.71 372.98,227.31 378.87,225.89 384.75,224.43 390.64,222.94 396.53,221.42 402.41,219.87 408.30,218.28 407.90,412.2 61.0,412.2"/>
<polygon fill="#efefef" points="61.00,263.66 66.89,263.66 72.77,263.63 78.66,263.59 84.55,263.53 90.43,263.45 96.32,263.34 102.21,263.22 108.09,263.07 113.98,262.89 119.86,262.70 125.75,262.48 131.64,262.24 137.52,261.97 143.41,261.67 149.30,261.36 155.18,261.01 161.07,260.64 166.96,260.25 172.84,259.83 178.73,259.38 184.62,258.91 190.50,258.41 196.39,257.88 202.27,257.32 208.16,256.74 214.05,256.13 219.93,255.50 225.82,254.83 231.71,254.14 237.59,253.42 243.48,252.67 249.37,251.90 255.25,251.09 261.14,250.26 267.03,249.40 272.91,248.51 278.80,247.59 284.68,246.64 290.57,245.66 296.46,244.65 302.34,243.62 308.23,242.55 314.12,241.45 320.00,240.33 325.89,239.17 331.78,237.99 337.66,236.77 343.55,235.53 349.44,234.25 355.32,232.95 361.21,231.61 367.09,230.24 372.98,228.85 378.87,227.42 384.75,225.96 390.64,224.47 396.53,222.95 402.41,221.40 408.30,219.82 407.90,412.2 61.0,412.2"/>
<polygon fill="#f0f0f0" points="61.00,265.20 66.89,265.19 72.77,265.17 78.66,265.12 84.55,265.06 90.43,264.98 96.32,264.88 102.21,264.75 108.09,264.60 113.98,264.43 119.86,264.23 125.75,264.01 131.64,263.77 137.52,263.50 143.41,263.21 149.30,262.89 155.18,262.55 161.07,262.18 166.96,261.78 172.84,261.36 178.73,260.91 184.62,260.44 190.50,259.94 196.39,259.41 202.27,258.86 208.16,258.28 214.05,257.67 219.93,257.03 225.82,256.37 231.71,255.67 237.59,254.95 243.48,254.21 249.37,253.43 255.25,252.63 261.14,251.79 267.03,250.93 272.91,250.04 278.80,249.12 284.68,248.17 290.57,247.19 296.46,246.19 302.34,245.15 308.23,244.08 314.12,242.99 320.00,241.86 325.89,240.71 331.78,239.52 337.66,238.31 343.55,237.06 349.44,235.79 355.32,234.48 361.21,233.14 367.09,231.78 372.98,230.38 378.87,228.95 384.75,227.49 390.64,226.00 396.53,224.48 402.41,222.93 408.30,221.35 407.90,412.2 61.0,412.2"/>
<polygon fill="#f1f1f1" points="61.00,266.73 66.89,266.72 72.77,266.70 78.66,266.66 84.55,266.60 90.43,266.51 96.32,266.41 102.21,266.28 108.09,266.13 113.98,265.96 119.86,265.77 125.75,265.55 131.64,265.30 137.52,265.03 143.41,264.74 149.30,264.42 155.18,264.08 161.07,263.71 166.96,263.32 172.84,262.89 178.73,262.45 184.62,261.97 190.50,261.47 196.39,260.95 202.27,260.39 208.16,259.81 214.05,259.20 219.93,258.56 225.82,257.90 231.71,257.21 237.59,256.49 243.48,255.74 249.37,254.96 255.25,254.16 261.14,253.33 267.03,252.46 272.91,251.57 278.80,250.65 284.68,249.70 290.57,248.73 296.46,247.72 302.34,246.68 308.23,245.62 314.12,244.52 320.00,243.39 325.89,242.24 331.78,241.05 337.66,239.84 343.55,238.59 349.44,237.32 355.32,236.01 361.21,234.68 367.09,233.31 372.98,231.91 378.87,230.49 384.75,229.03 390.64,227.54 396.53,226.02 402.41,224.47 408.30,222.88 407.90,412.2 61.0,412.2"/>
</g>
<rect x="61.0" y="222.26" width="346.90" height="189.94" fill="#eff0f0"/>
<g clip-path="url(#cp)">
<polygon fill="#e6e7e7" points="61.00,348.89 66.89,348.88 72.77,348.87 78.66,348.85 84.55,348.82 90.43,348.79 96.32,348.74 102.21,348.69 108.09,348.63 113.98,348.56 119.86,348.48 125.75,348.39 131.64,348.30 137.52,348.20 143.41,348.08 149.30,347.97 155.18,347.84 161.07,347.70 166.96,347.56 172.84,347.41 178.73,347.25 184.62,347.08 190.50,346.90 196.39,346.72 202.27,346.53 208.16,346.33 214.05,346.12 219.93,345.90 225.82,345.67 231.71,345.44 237.59,345.20 243.48,344.95 249.37,344.69 255.25,344.42 261.14,344.15 267.03,343.87 272.91,343.58 278.80,343.28 284.68,342.97 290.57,342.65 296.46,342.33 302.34,342.00 308.23,341.66 314.12,341.31 320.00,340.95 325.89,340.59 331.78,340.21 337.66,339.83 343.55,339.44 349.44,339.05 355.32,338.64 361.21,338.23 367.09,337.80 372.98,337.37 378.87,336.93 384.75,336.49 390.64,336.03 396.53,335.57 402.41,335.10 408.30,334.62 407.90,412.2 61.0,412.2"/>
<polygon fill="#dddede" points="61.00,349.83 66.89,349.82 72.77,349.81 78.66,349.79 84.55,349.76 90.43,349.72 96.32,349.68 102.21,349.62 108.09,349.56 113.98,349.49 119.86,349.42 125.75,349.33 131.64,349.24 137.52,349.13 143.41,349.02 149.30,348.90 155.18,348.78 161.07,348.64 166.96,348.50 172.84,348.35 178.73,348.19 184.62,348.02 190.50,347.84 196.39,347.66 202.27,347.46 208.16,347.26 214.05,347.05 219.93,346.84 225.82,346.61 231.71,346.38 237.59,346.14 243.48,345.89 249.37,345.63 255.25,345.36 261.14,345.09 267.03,344.80 272.91,344.51 278.80,344.21 284.68,343.91 290.57,343.59 296.46,343.27 302.34,342.93 308.23,342.59 314.12,342.25 320.00,341.89 325.89,341.52 331.78,341.15 337.66,340.77 343.55,340.38 349.44,339.98 355.32,339.58 361.21,339.16 367.09,338.74 372.98,338.31 378.87,337.87 384.75,337.42 390.64,336.97 396.53,336.51 402.41,336.04 408.30,335.56 407.90,412.2 61.0,412.2"/>
<polygon fill="#d4d5d5" points="61.00,350.76 66.89,350.76 72.77,350.75 78.66,350.73 84.55,350.70 90.43,350.66 96.32,350.62 102.21,350.56 108.09,350.50 113.98,350.43 119.86,350.35 125.75,350.27 131.64,350.17 137.52,350.07 143.41,349.96 149.30,349.84 155.18,349.71 161.07,349.58 166.96,349.43 172.84,349.28 178.73,349.12 184.62,348.96 190.50,348.78 196.39,348.59 202.27,348.40 208.16,348.20 214.05,347.99 219.93,347.77 225.82,347.55 231.71,347.32 237.59,347.07 243.48,346.82 249.37,346.57 255.25,346.30 261.14,346.02 267.03,345.74 272.91,345.45 278.80,345.15 284.68,344.84 290.57,344.53 296.46,344.20 302.34,343.87 308.23,343.53 314.12,343.18 320.00,342.83 325.89,342.46 331.78,342.09 337.66,341.71 343.55,341.32 349.44,340.92 355.32,340.51 361.21,340.10 367.09,339.68 372.98,339.25 378.87,338.81 384.75,338.36 390.64,337.91 396.53,337.44 402.41,336.97 408.30,336.49 407.90,412.2 61.0,412.2"/>
<polygon fill="#cbcccc" points="61.00,351.70 66.89,351.70 72.77,351.68 78.66,351.66 84.55,351.63 90.43,351.60 96.32,351.55 102.21,351.50 108.09,351.44 113.98,351.37 119.86,351.29 125.75,351.20 131.64,351.11 137.52,351.01 143.41,350.90 149.30,350.78 155.18,350.65 161.07,350.52 166.96,350.37 172.84,350.22 178.73,350.06 184.62,349.89 190.50,349.72 196.39,349.53 202.27,349.34 208.16,349.14 214.05,348.93 219.93,348.71 225.82,348.49 231.71,348.25 237.59,348.01 243.48,347.76 249.37,347.50 255.25,347.24 261.14,346.96 267.03,346.68 272.91,346.39 278.80,346.09 284.68,345.78 290.57,345.47 296.46,345.14 302.34,344.81 308.23,344.47 314.12,344.12 320.00,343.76 325.89,343.40 331.78,343.03 337.66,342.64 343.55,342.26 349.44,341.86 355.32,341.45 361.21,341.04 367.09,340.62 372.98,340.19 378.87,339.75 384.75,339.30 390.64,338.84 396.53,338.38 402.41,337.91 408.30,337.43 407.90,412.2 61.0,412.2"/>
<polygon fill="#c2c3c3" points="61.00,352.64 66.89,352.63 72.77,352.62 78.66,352.60 84.55,352.57 90.43,352.54 96.32,352.49 102.21,352.44 108.09,352.38 113.98,352.31 119.86,352.23 125.75,352.14 131.64,352.05 137.52,351.95 143.41,351.83 149.30,351.72 155.18,351.59 161.07,351.45 166.96,351.31 172.84,351.16 178.73,351.00 184.62,350.83 190.50,350.65 196.39,350.47 202.27,350.28 208.16,350.08 214.05,349.87 219.93,349.65 225.82,349.42 231.71,349.19 237.59,348.95 243.48,348.70 249.37,348.44 255.25,348.17 261.14,347.90 267.03,347.62 272.91,347.33 278.80,347.03 284.68,346.72 290.57,346.40 296.46,346.08 302.34,345.75 308.23,345.41 314.12,345.06 320.00,344.70 325.89,344.34 331.78,343.96 337.66,343.58 343.55,343.19 349.44,342.80 355.32,342.39 361.21,341.98 367.09,341.55 372.98,341.12 378.87,340.68 384.75,340.24 390.64,339.78 396.53,339.32 402.41,338.85 408.30,338.37 407.90,412.2 61.0,412.2"/>
<polygon fill="#b9baba" points="61.00,353.58 66.89,353.57 72.77,353.56 78.66,353.54 84.55,353.51 90.43,353.47 96.32,353.43 102.21,353.37 108.09,353.31 113.98,353.24 119.86,353.17 125.75,353.08 131.64,352.99 137.52,352.88 143.41,352.77 149.30,352.65 155.18,352.53 161.07,352.39 166.96,352.25 172.84,352.10 178.73,351.94 184.62,351.77 190.50,351.59 196.39,351.41 202.27,351.21 208.16,351.01 214.05,350.80 219.93,350.59 225.82,350.36 231.71,350.13 237.59,349.89 243.48,349.64 249.37,349.38 255.25,349.11 261.14,348.84 267.03,348.55 272.91,348.26 278.80,347.96 284.68,347.66 290.57,347.34 296.46,347.02 302.34,346.68 308.23,346.34 314.12,346.00 320.00,345.64 325.89,345.27 331.78,344.90 337.66,344.52 343.55,344.13 349.44,343.73 355.32,343.33 361.21,342.91 367.09,342.49 372.98,342.06 378.87,341.62 384.75,341.17 390.64,340.72 396.53,340.26 402.41,339.79 408.30,339.31 407.90,412.2 61.0,412.2"/>
<polygon fill="#b0b1b1" points="61.00,354.51 66.89,354.51 72.77,354.50 78.66,354.48 84.55,354.45 90.43,354.41 96.32,354.37 102.21,354.31 108.09,354.25 113.98,354.18 119.86,354.10 125.75,354.02 131.64,353.92 137.52,353.82 143.41,353.71 149.30,353.59 155.18,353.46 161.07,353.33 166.96,353.18 172.84,353.03 178.73,352.87 184.62,352.71 190.50,352.53 196.39,352.34 202.27,352.15 208.16,351.95 214.05,351.74 219.93,351.52 225.82,351.30 231.71,351.07 237.59,350.82 243.48,350.57 249.37,350.32 255.25,350.05 261.14,349.77 267.03,349.49 272.91,349.20 278.80,348.90 284.68,348.59 290.57,348.28 296.46,347.95 302.34,347.62 308.23,347.28 314.12,346.93 320.00,346.58 325.89,346.21 331.78,345.84 337.66,345.46 343.55,345.07 349.44,344.67 355.32,344.26 361.21,343.85 367.09,343.43 372.98,343.00 378.87,342.56 384.75,342.11 390.64,341.66 396.53,341.19 402.41,340.72 408.30,340.24 407.90,412.2 61.0,412.2"/>
<polygon fill="#a6a8a8" points="61.00,355.45 66.89,355.45 72.77,355.43 78.66,355.41 84.55,355.38 90.43,355.35 96.32,355.30 102.21,355.25 108.09,355.19 113.98,355.12 119.86,355.04 125.75,354.95 131.64,354.86 137.52,354.76 143.41,354.65 149.30,354.53 155.18,354.40 161.07,354.27 166.96,354.12 172.84,353.97 178.73,353.81 184.62,353.64 190.50,353.47 196.39,353.28 202.27,353.09 208.16,352.89 214.05,352.68 219.93,352.46 225.82,352.24 231.71,352.00 237.59,351.76 243.48,351.51 249.37,351.25 255.25,350.99 261.14,350.71 267.03,350.43 272.91,350.14 278.80,349.84 284.68,349.53 290.57,349.22 296.46,348.89 302.34,348.56 308.23,348.22 314.12,347.87 320.00,347.51 325.89,347.15 331.78,346.78 337.66,346.39 343.55,346.01 349.44,345.61 355.32,345.20 361.21,344.79 367.09,344.37 372.98,343.94 378.87,343.50 384.75,343.05 390.64,342.59 396.53,342.13 402.41,341.66 408.30,341.18 407.90,412.2 61.0,412.2"/>
<polygon fill="#9d9ea0" points="61.00,356.39 66.89,356.38 72.77,356.37 78.66,356.35 84.55,356.32 90.43,356.29 96.32,356.24 102.21,356.19 108.09,356.13 113.98,356.06 119.86,355.98 125.75,355.89 131.64,355.80 137.52,355.70 143.41,355.58 149.30,355.47 155.18,355.34 161.07,355.20 166.96,355.06 172.84,354.91 178.73,354.75 184.62,354.58 190.50,354.40 196.39,354.22 202.27,354.03 208.16,353.83 214.05,353.62 219.93,353.40 225.82,353.17 231.71,352.94 237.59,352.70 243.48,352.45 249.37,352.19 255.25,351.92 261.14,351.65 267.03,351.37 272.91,351.08 278.80,350.78 284.68,350.47 290.57,350.15 296.46,349.83 302.34,349.50 308.23,349.16 314.12,348.81 320.00,348.45 325.89,348.09 331.78,347.71 337.66,347.33 343.55,346.94 349.44,346.55 355.32,346.14 361.21,345.73 367.09,345.30 372.98,344.87 378.87,344.43 384.75,343.99 390.64,343.53 396.53,343.07 402.41,342.60 408.30,342.12 407.90,412.2 61.0,412.2"/>
<polygon fill="#949597" points="61.00,357.33 66.89,357.32 72.77,357.31 78.66,357.29 84.55,357.26 90.43,357.22 96.32,357.18 102.21,357.12 108.09,357.06 113.98,356.99 119.86,356.92 125.75,356.83 131.64,356.74 137.52,356.63 143.41,356.52 149.30,356.40 155.18,356.28 161.07,356.14 166.96,356.00 172.84,355.85 178.73,355.69 184.62,355.52 190.50,355.34 196.39,355.16 202.27,354.96 208.16,354.76 214.05,354.55 219.93,354.34 225.82,354.11 231.71,353.88 237.59,353.64 243.48,353.39 249.37,353.13 255.25,352.86 261.14,352.59 267.03,352.30 272.91,352.01 278.80,351.71 284.68,351.41 290.57,351.09 296.46,350.77 302.34,350.43 308.23,350.09 314.12,349.75 320.00,349.39 325.89,349.02 331.78,348.65 337.66,348.27 343.55,347.88 349.44,347.48 355.32,347.08 361.21,346.66 367.09,346.24 372.98,345.81 378.87,345.37 384.75,344.92 390.64,344.47 396.53,344.01 402.41,343.54 408.30,343.06 407.90,412.2 61.0,412.2"/>
<polygon fill="#8b8c8e" points="61.00,358.26 66.89,358.26 72.77,358.25 78.66,358.23 84.55,358.20 90.43,358.16 96.32,358.12 102.21,358.06 108.09,358.00 113.98,357.93 119.86,357.85 125.75,357.77 131.64,357.67 137.52,357.57 143.41,357.46 149.30,357.34 155.18,357.21 161.07,357.08 166.96,356.93 172.84,356.78 178.73,356.62 184.62,356.46 190.50,356.28 196.39,356.09 202.27,355.90 208.16,355.70 214.05,355.49 219.93,355.27 225.82,355.05 231.71,354.82 237.59,354.57 243.48,354.32 249.37,354.07 255.25,353.80 261.14,353.52 267.03,353.24 272.91,352.95 278.80,352.65 284.68,352.34 290.57,352.03 296.46,351.70 302.34,351.37 308.23,351.03 314.12,350.68 320.00,350.33 325.89,349.96 331.78,349.59 337.66,349.21 343.55,348.82 349.44,348.42 355.32,348.01 361.21,347.60 367.09,347.18 372.98,346.75 378.87,346.31 384.75,345.86 390.64,345.41 396.53,344.94 402.41,344.47 408.30,343.99 407.90,412.2 61.0,412.2"/>
<polygon fill="#828385" points="61.00,359.20 66.89,359.20 72.77,359.18 78.66,359.16 84.55,359.13 90.43,359.10 96.32,359.05 102.21,359.00 108.09,358.94 113.98,358.87 119.86,358.79 125.75,358.70 131.64,358.61 137.52,358.51 143.41,358.40 149.30,358.28 155.18,358.15 161.07,358.02 166.96,357.87 172.84,357.72 178.73,357.56 184.62,357.39 190.50,357.22 196.39,357.03 202.27,356.84 208.16,356.64 214.05,356.43 219.93,356.21 225.82,355.99 231.71,355.75 237.59,355.51 243.48,355.26 249.37,355.00 255.25,354.74 261.14,354.46 267.03,354.18 272.91,353.89 278.80,353.59 284.68,353.28 290.57,352.97 296.46,352.64 302.34,352.31 308.23,351.97 314.12,351.62 320.00,351.26 325.89,350.90 331.78,350.53 337.66,350.14 343.55,349.76 349.44,349.36 355.32,348.95 361.21,348.54 367.09,348.12 372.98,347.69 378.87,347.25 384.75,346.80 390.64,346.34 396.53,345.88 402.41,345.41 408.30,344.93 407.90,412.2 61.0,412.2"/>
<polygon fill="#797a7c" points="61.00,360.14 66.89,360.13 72.77,360.12 78.66,360.10 84.55,360.07 90.43,360.04 96.32,359.99 102.21,359.94 108.09,359.88 113.98,359.81 119.86,359.73 125.75,359.64 131.64,359.55 137.52,359.45 143.41,359.33 149.30,359.22 155.18,359.09 161.07,358.95 166.96,358.81 172.84,358.66 178.73,358.50 184.62,358.33 190.50,358.15 196.39,357.97 202.27,357.78 208.16,357.58 214.05,357.37 219.93,357.15 225.82,356.92 231.71,356.69 237.59,356.45 243.48,356.20 249.37,355.94 255.25,355.67 261.14,355.40 267.03,355.12 272.91,354.83 278.80,354.53 284.68,354.22 290.57,353.90 296.46,353.58 302.34,353.25 308.23,352.91 314.12,352.56 320.00,352.20 325.89,351.84 331.78,351.46 337.66,351.08 343.55,350.69 349.44,350.30 355.32,349.89 361.21,349.48 367.09,349.05 372.98,348.62 378.87,348.18 384.75,347.74 390.64,347.28 396.53,346.82 402.41,346.35 408.30,345.87 407.90,412.2 61.0,412.2"/>
<polygon fill="#707173" points="61.00,361.08 66.89,361.07 72.77,361.06 78.66,361.04 84.55,361.01 90.43,360.97 96.32,360.93 102.21,360.87 108.09,360.81 113.98,360.74 119.86,360.67 125.75,360.58 131.64,360.49 137.52,360.38 143.41,360.27 149.30,360.15 155.18,360.03 161.07,359.89 166.96,359.75 172.84,359.60 178.73,359.44 184.62,359.27 190.50,359.09 196.39,358.91 202.27,358.71 208.16,358.51 214.05,358.30 219.93,358.09 225.82,357.86 231.71,357.63 237.59,357.39 243.48,357.14 249.37,356.88 255.25,356.61 261.14,356.34 267.03,356.05 272.91,355.76 278.80,355.46 284.68,355.16 290.57,354.84 296.46,354.52 302.34,354.18 308.23,353.84 314.12,353.50 320.00,353.14 325.89,352.77 331.78,352.40 337.66,352.02 343.55,351.63 349.44,351.23 355.32,350.83 361.21,350.41 367.09,349.99 372.98,349.56 378.87,349.12 384.75,348.67 390.64,348.22 396.53,347.76 402.41,347.29 408.30,346.81 407.90,412.2 61.0,412.2"/>
<polygon fill="#67686a" points="61.00,362.01 66.89,362.01 72.77,362.00 78.66,361.98 84.55,361.95 90.43,361.91 96.32,361.87 102.21,361.81 108.09,361.75 113.98,361.68 119.86,361.60 125.75,361.52 131.64,361.42 137.52,361.32 143.41,361.21 149.30,361.09 155.18,360.96 161.07,360.83 166.96,360.68 172.84,360.53 178.73,360.37 184.62,360.21 190.50,360.03 196.39,359.84 202.27,359.65 208.16,359.45 214.05,359.24 219.93,359.02 225.82,358.80 231.71,358.57 237.59,358.32 243.48,358.07 249.37,357.82 255.25,357.55 261.14,357.27 267.03,356.99 272.91,356.70 278.80,356.40 284.68,356.09 290.57,355.78 296.46,355.45 302.34,355.12 308.23,354.78 314.12,354.43 320.00,354.08 325.89,353.71 331.78,353.34 337.66,352.96 343.55,352.57 349.44,352.17 355.32,351.76 361.21,351.35 367.09,350.93 372.98,350.50 378.87,350.06 384.75,349.61 390.64,349.16 396.53,348.69 402.41,348.22 408.30,347.74 407.90,412.2 61.0,412.2"/>
<polygon fill="#5e5f61" points="61.00,362.95 66.89,362.95 72.77,362.93 78.66,362.91 84.55,362.88 90.43,362.85 96.32,362.80 102.21,362.75 108.09,362.69 113.98,362.62 119.86,362.54 125.75,362.45 131.64,362.36 137.52,362.26 143.41,362.15 149.30,362.03 155.18,361.90 161.07,361.77 166.96,361.62 172.84,361.47 178.73,361.31 184.62,361.14 190.50,360.97 196.39,360.78 202.27,360.59 208.16,360.39 214.05,360.18 219.93,359.96 225.82,359.74 231.71,359.50 237.59,359.26 243.48,359.01 249.37,358.75 255.25,358.49 261.14,358.21 267.03,357.93 272.91,357.64 278.80,357.34 284.68,357.03 290.57,356.72 296.46,356.39 302.34,356.06 308.23,355.72 314.12,355.37 320.00,355.01 325.89,354.65 331.78,354.28 337.66,353.89 343.55,353.51 349.44,353.11 355.32,352.70 361.21,352.29 367.09,351.87 372.98,351.44 378.87,351.00 384.75,350.55 390.64,350.09 396.53,349.63 402.41,349.16 408.30,348.68 407.90,412.2 61.0,412.2"/>
</g>
<rect x="61.0" y="348.89" width="346.90" height="63.31" fill="#6d6e70"/>
<rect x="407.90" y="16.5" width="106.10" height="395.70" fill="#58595b"/>
<path d="M61.0,16.5 V412.2 H514.0" fill="none" stroke="#6a6a6a" stroke-width="0.8"/>
<polyline stroke="#77787b" stroke-width="1.2" fill="none" stroke-dasharray="9.5 2.5 2 2.5" points="151.60,109.85 155.95,110.08 160.30,110.32 164.65,110.58 169.00,110.84 173.35,111.12 177.71,111.41 182.06,111.71 186.41,112.02 190.76,112.34 195.11,112.67 199.46,113.02 203.81,113.37 208.16,113.74 212.51,114.12 216.86,114.52 221.21,114.92 225.56,115.34 229.92,115.76 234.27,116.20 238.62,116.66 242.97,117.12 247.32,117.60 251.67,118.09 256.02,118.59 260.37,119.10 264.72,119.63 269.07,120.17 273.42,120.72 277.77,121.29 282.13,121.87 286.48,122.46 290.83,123.06 295.18,123.68 299.53,124.31 303.88,124.96 308.23,125.61 312.58,126.29 316.93,126.97 321.28,127.67 325.63,128.38 329.98,129.11 334.34,129.85 338.69,130.61 343.04,131.38 347.39,132.17 351.74,132.97 356.09,133.78 360.44,134.61 364.79,135.45 369.14,136.31 373.49,137.19 377.84,138.08 382.19,138.99 386.55,139.91 390.90,140.84 395.25,141.80 399.60,142.77 403.95,143.75 408.30,144.76"/>
<polyline stroke="#77787b" stroke-width="1.2" fill="none" stroke-dasharray="9.5 2.5 2 2.5" points="106.30,221.71 111.42,221.57 116.54,221.41 121.66,221.23 126.77,221.04 131.89,220.82 137.01,220.59 142.13,220.34 147.25,220.07 152.37,219.78 157.49,219.47 162.61,219.14 167.72,218.80 172.84,218.43 177.96,218.04 183.08,217.63 188.20,217.21 193.32,216.76 198.44,216.29 203.55,215.80 208.67,215.29 213.79,214.76 218.91,214.21 224.03,213.64 229.15,213.05 234.27,212.43 239.38,211.80 244.50,211.14 249.62,210.46 254.74,209.76 259.86,209.04 264.98,208.30 270.10,207.54 275.22,206.75 280.33,205.94 285.45,205.11 290.57,204.26 295.69,203.38 300.81,202.49 305.93,201.57 311.05,200.63 316.16,199.67 321.28,198.68 326.40,197.67 331.52,196.64 336.64,195.59 341.76,194.51 346.88,193.41 351.99,192.29 357.11,191.14 362.23,189.97 367.35,188.78 372.47,187.57 377.59,186.33 382.71,185.07 387.83,183.79 392.94,182.48 398.06,181.15 403.18,179.80 408.30,178.42"/>
<polyline stroke="#8a8b8d" stroke-width="1.2" fill="none" stroke-dasharray="9.5 2.5 2 2.5" points="151.60,347.92 155.95,347.82 160.30,347.72 164.65,347.62 169.00,347.51 173.35,347.39 177.71,347.28 182.06,347.15 186.41,347.03 190.76,346.90 195.11,346.76 199.46,346.62 203.81,346.48 208.16,346.33 212.51,346.17 216.86,346.01 221.21,345.85 225.56,345.68 229.92,345.51 234.27,345.34 238.62,345.16 242.97,344.97 247.32,344.78 251.67,344.59 256.02,344.39 260.37,344.19 264.72,343.98 269.07,343.77 273.42,343.55 277.77,343.33 282.13,343.10 286.48,342.87 290.83,342.64 295.18,342.40 299.53,342.16 303.88,341.91 308.23,341.66 312.58,341.40 316.93,341.14 321.28,340.87 325.63,340.60 329.98,340.33 334.34,340.05 338.69,339.77 343.04,339.48 347.39,339.18 351.74,338.89 356.09,338.59 360.44,338.28 364.79,337.97 369.14,337.65 373.49,337.33 377.84,337.01 382.19,336.68 386.55,336.35 390.90,336.01 395.25,335.67 399.60,335.32 403.95,334.97 408.30,334.62"/>
<line x1="61.0" x2="407.90" y1="222.26" y2="222.26" stroke="#231f20" stroke-width="1.5"/>
<line x1="61.0" x2="407.90" y1="348.89" y2="348.89" stroke="#231f20" stroke-width="1.5"/>
<line x1="407.90" x2="407.90" y1="16.5" y2="412.2" stroke="#231f20" stroke-width="1.5"/>
<line x1="61" x2="399" y1="58.64" y2="58.64" stroke="#231f20" stroke-width="2.3" stroke-dasharray="7.8 7.93"/>
<line x1="61" x2="399" y1="107.71" y2="107.71" stroke="#231f20" stroke-width="2.3" stroke-dasharray="7.8 7.93"/>
<polyline stroke="#231f20" stroke-width="2.3" fill="none" points="61.00,58.44 67.00,58.46 73.00,58.51 79.00,58.58 85.01,58.69 91.01,58.83 97.01,59.00 103.01,59.20 109.01,59.43 115.01,59.70 121.02,59.99 127.02,60.32 133.02,60.68 139.02,61.07 145.02,61.49 151.02,61.95 157.03,62.44 163.03,62.96 169.03,63.51 175.03,64.10 181.03,64.72 187.03,65.38 193.04,66.07 199.04,66.79 205.04,67.55 211.04,68.34 217.04,69.17 223.04,70.04 229.05,70.94 235.05,71.88 241.05,72.85 247.05,73.87 253.05,74.92 259.05,76.01 265.05,77.14 271.06,78.31 277.06,79.52 283.06,80.77 289.06,82.06 295.06,83.39 301.06,84.77 307.07,86.18 313.07,87.65 319.07,89.15 325.07,90.70 331.07,92.30 337.07,93.94 343.08,95.63 349.08,97.37 355.08,99.16 361.08,100.99 367.08,102.88 373.08,104.81 379.09,106.80 385.09,108.84 391.09,110.93 397.09,113.08 403.09,115.28 409.09,117.54 415.10,119.85"/>
<polyline stroke="#231f20" stroke-width="2.3" fill="none" points="61.00,107.51 67.00,107.52 73.00,107.56 79.00,107.62 85.01,107.71 91.01,107.82 97.01,107.96 103.01,108.12 109.01,108.31 115.01,108.52 121.02,108.76 127.02,109.02 133.02,109.31 139.02,109.62 145.02,109.96 151.02,110.33 157.03,110.72 163.03,111.13 169.03,111.58 175.03,112.05 181.03,112.54 187.03,113.06 193.04,113.61 199.04,114.19 205.04,114.79 211.04,115.42 217.04,116.07 223.04,116.76 229.05,117.47 235.05,118.21 241.05,118.98 247.05,119.78 253.05,120.60 259.05,121.46 265.05,122.34 271.06,123.25 277.06,124.20 283.06,125.17 289.06,126.17 295.06,127.21 301.06,128.27 307.07,129.37 313.07,130.50 319.07,131.66 325.07,132.85 331.07,134.08 337.07,135.34 343.08,136.63 349.08,137.95 355.08,139.31 361.08,140.71 367.08,142.14 373.08,143.60 379.09,145.10 385.09,146.64 391.09,148.21 397.09,149.82 403.09,151.47 409.09,153.16 415.10,154.88"/>
<polyline stroke="#231f20" stroke-width="2.3" fill="none" stroke-dasharray="7.9 7.83" points="422.34,122.72 423.90,123.34 425.45,123.97 427.00,124.61 428.56,125.25 430.11,125.89 431.66,126.53 433.22,127.18 434.77,127.84 436.32,128.49 437.88,129.16 439.43,129.82 440.99,130.49 442.54,131.17 444.09,131.85 445.65,132.53 447.20,133.21 448.75,133.91 450.31,134.60 451.86,135.30 453.41,136.00 454.97,136.71 456.52,137.42 458.07,138.14 459.63,138.86 461.18,139.58 462.73,140.31 464.29,141.05 465.84,141.78 467.39,142.53 468.95,143.27 470.50,144.02 472.06,144.78 473.61,145.54 475.16,146.30 476.72,147.07 478.27,147.85 479.82,148.62 481.38,149.41 482.93,150.19 484.48,150.99 486.04,151.78 487.59,152.58 489.14,153.39 490.70,154.20 492.25,155.01 493.80,155.83 495.36,156.66 496.91,157.49 498.46,158.32 500.02,159.16 501.57,160.00 503.13,160.85 504.68,161.70 506.23,162.56 507.79,163.42 509.34,164.29 510.89,165.16 512.45,166.04 514.00,166.92"/>
<polyline stroke="#231f20" stroke-width="2.3" fill="none" stroke-dasharray="7.9 7.83" points="422.34,157.02 423.90,157.48 425.45,157.95 427.00,158.42 428.56,158.89 430.11,159.37 431.66,159.84 433.22,160.33 434.77,160.81 436.32,161.30 437.88,161.79 439.43,162.28 440.99,162.77 442.54,163.27 444.09,163.77 445.65,164.27 447.20,164.78 448.75,165.29 450.31,165.80 451.86,166.31 453.41,166.83 454.97,167.35 456.52,167.87 458.07,168.40 459.63,168.92 461.18,169.45 462.73,169.99 464.29,170.53 465.84,171.06 467.39,171.61 468.95,172.15 470.50,172.70 472.06,173.25 473.61,173.81 475.16,174.36 476.72,174.92 478.27,175.49 479.82,176.05 481.38,176.62 482.93,177.19 484.48,177.77 486.04,178.35 487.59,178.93 489.14,179.51 490.70,180.10 492.25,180.69 493.80,181.28 495.36,181.88 496.91,182.48 498.46,183.08 500.02,183.69 501.57,184.30 503.13,184.91 504.68,185.52 506.23,186.14 507.79,186.76 509.34,187.39 510.89,188.01 512.45,188.64 514.00,189.28"/>
<path d="M197.2,77.4 C208,77.6 220.5,74.0 225.3,61.5" fill="none" stroke="#fff" stroke-width="1.9" stroke-linecap="round"/>
<polyline points="220.3,65.6 226,59.8 228,67.4" fill="none" stroke="#fff" stroke-width="1.9" stroke-linecap="round" stroke-linejoin="round"/>
<path d="M197.2,127.3 C208,127.5 220.5,123.9 225.3,111.4" fill="none" stroke="#fff" stroke-width="1.9" stroke-linecap="round"/>
<polyline points="220.3,115.5 226,109.7 228,117.3" fill="none" stroke="#fff" stroke-width="1.9" stroke-linecap="round" stroke-linejoin="round"/>
<text x="130.8" y="42.8" font-size="24.5" fill="#fff" text-anchor="start" font-family="'Liberation Serif', serif" textLength="81.7" lengthAdjust="spacingAndGlyphs" >Faraday</text>
<text x="224.2" y="42.8" font-size="24.5" fill="#fff" text-anchor="start" font-family="'Liberation Serif', serif" textLength="107.1" lengthAdjust="spacingAndGlyphs" >Instability</text>
<text x="232.3" y="102.5" font-size="24.5" fill="#231f20" text-anchor="start" font-family="'Liberation Serif', serif" textLength="80.1" lengthAdjust="spacingAndGlyphs" >Walkers</text>
<text x="100.2" y="180.2" font-size="24.5" fill="#231f20" text-anchor="start" font-family="'Liberation Serif', serif" textLength="158.6" lengthAdjust="spacingAndGlyphs" >Period-doubled</text>
<text x="267.9" y="180.2" font-size="24.5" fill="#231f20" text-anchor="start" font-family="'Liberation Serif', serif" textLength="95.2" lengthAdjust="spacingAndGlyphs" >Bouncing</text>
<text x="147.3" y="289.3" font-size="24.5" fill="#231f20" text-anchor="start" font-family="'Liberation Serif', serif" textLength="73.3" lengthAdjust="spacingAndGlyphs" >Simple</text>
<text x="232.3" y="289.3" font-size="24.5" fill="#231f20" text-anchor="start" font-family="'Liberation Serif', serif" textLength="96.2" lengthAdjust="spacingAndGlyphs" >Bouncing</text>
<text x="165.7" y="384.8" font-size="24.5" fill="#fff" text-anchor="start" font-family="'Liberation Serif', serif" textLength="131.4" lengthAdjust="spacingAndGlyphs" >Coalescence</text>
<text transform="translate(473,305) rotate(-90)" font-size="28.6" fill="#fff" font-family="'Liberation Serif', serif" textLength="188" lengthAdjust="spacingAndGlyphs">Breakdown Field</text>
<text x="89.2" y="87.3" font-size="15" font-style="italic" fill="#231f20" font-family="'Liberation Serif', serif" textLength="12" lengthAdjust="spacingAndGlyphs">F</text>
<text fill="#231f20" font-family="'Liberation Serif', serif"><tspan x="76.8" y="83.7" font-size="21.5" font-style="italic">a</tspan><tspan x="101.4" y="84.5" font-size="24" >(</tspan><tspan x="108.8" y="83.7" font-size="21.5" font-style="italic">V</tspan><tspan x="121.6" y="87.3" font-size="14.5" >0</tspan><tspan x="156.7" y="84.0" font-size="21" >0</tspan><tspan x="168.2" y="84.5" font-size="24" >)</tspan><tspan x="176.0" y="86.9" font-size="29" >/</tspan><tspan x="184.5" y="83.7" font-size="21.5" font-style="italic">g</tspan></text>
<text x="134.8" y="84.3" font-size="23" fill="#231f20" font-family="'Liberation Serif', serif" textLength="16.6" lengthAdjust="spacingAndGlyphs">=</text>
<text x="86.6" y="136.6" font-size="15" font-style="italic" fill="#231f20" font-family="'Liberation Serif', serif" textLength="17" lengthAdjust="spacingAndGlyphs">W</text>
<text fill="#231f20" font-family="'Liberation Serif', serif"><tspan x="76.2" y="133.0" font-size="21.5" font-style="italic">a</tspan><tspan x="104.0" y="133.8" font-size="24" >(</tspan><tspan x="111.4" y="133.0" font-size="21.5" font-style="italic">V</tspan><tspan x="124.4" y="136.6" font-size="14.5" >0</tspan><tspan x="157.7" y="133.3" font-size="21" >0</tspan><tspan x="169.0" y="133.8" font-size="24" >)</tspan><tspan x="176.8" y="136.2" font-size="29" >/</tspan><tspan x="184.8" y="133.0" font-size="21.5" font-style="italic">g</tspan></text>
<text x="136.8" y="133.6" font-size="23" fill="#231f20" font-family="'Liberation Serif', serif" textLength="16.6" lengthAdjust="spacingAndGlyphs">=</text>
<text x="49" y="418.7" font-size="25" fill="#2b2b2b" text-anchor="middle" font-family="'Liberation Serif', serif" >0</text>
<text x="49" y="340.25" font-size="25" fill="#2b2b2b" text-anchor="middle" font-family="'Liberation Serif', serif" >1</text>
<text x="49" y="261.8" font-size="25" fill="#2b2b2b" text-anchor="middle" font-family="'Liberation Serif', serif" >2</text>
<text x="49" y="183.34999999999997" font-size="25" fill="#2b2b2b" text-anchor="middle" font-family="'Liberation Serif', serif" >3</text>
<text x="49" y="104.89999999999999" font-size="25" fill="#2b2b2b" text-anchor="middle" font-family="'Liberation Serif', serif" >4</text>
<text x="49" y="26.45" font-size="25" fill="#2b2b2b" text-anchor="middle" font-family="'Liberation Serif', serif" >5</text>
<text x="68.3" y="434.1" font-size="21" fill="#2b2b2b" text-anchor="middle" font-family="'Liberation Serif', serif" >0</text>
<text x="141.5" y="434.1" font-size="21" fill="#2b2b2b" text-anchor="middle" font-family="'Liberation Serif', serif" >0.5</text>
<text x="216.6" y="434.1" font-size="21" fill="#2b2b2b" text-anchor="middle" font-family="'Liberation Serif', serif" >1</text>
<text x="290.4" y="434.1" font-size="21" fill="#2b2b2b" text-anchor="middle" font-family="'Liberation Serif', serif" >1.5</text>
<text x="362.5" y="434.1" font-size="21" fill="#2b2b2b" text-anchor="middle" font-family="'Liberation Serif', serif" >2</text>
<text x="436.7" y="434.1" font-size="21" fill="#2b2b2b" text-anchor="middle" font-family="'Liberation Serif', serif" >2.5</text>
<text x="510.7" y="434.1" font-size="21" fill="#2b2b2b" text-anchor="middle" font-family="'Liberation Serif', serif" >3</text>
<text x="231.3" y="463.2" font-size="27" fill="#333" text-anchor="start" font-family="'Liberation Serif', serif" textLength="134.5" lengthAdjust="spacingAndGlyphs" >Voltage (V)</text>
<text fill="#333" font-family="'Liberation Serif', serif"><tspan x="465.6" y="473.2" font-size="27">×</tspan><tspan x="485.3" y="470.8" font-size="25">10</tspan><tspan x="512.1" y="459" font-size="18.5">4</tspan></text>
<text transform="translate(30.5,274.1) rotate(-90) scale(1.0,1)" font-size="34" fill="#444" font-family="'DejaVu Math TeX Gyre', 'Liberation Serif', serif" >𝒜</text>
<text transform="translate(30.8,238.5) rotate(-90) scale(1.0,1)" font-size="33.5" fill="#231f20" font-family="'Liberation Serif', serif" font-style="italic" font-weight="bold">ω</text>
<text transform="translate(17.2,215.2) rotate(-90) scale(1.15,1)" font-size="25" fill="#231f20" font-family="'Liberation Serif', serif" >2</text>
<text transform="translate(38.1,198.2) rotate(-90) scale(1.0,1)" font-size="48" fill="#555" font-family="'Liberation Serif', serif" >/</text>
<text transform="translate(30.8,185.7) rotate(-90) scale(1.1,1)" font-size="32" fill="#231f20" font-family="'Liberation Serif', serif" >g</text>
</svg>
</body></html>
